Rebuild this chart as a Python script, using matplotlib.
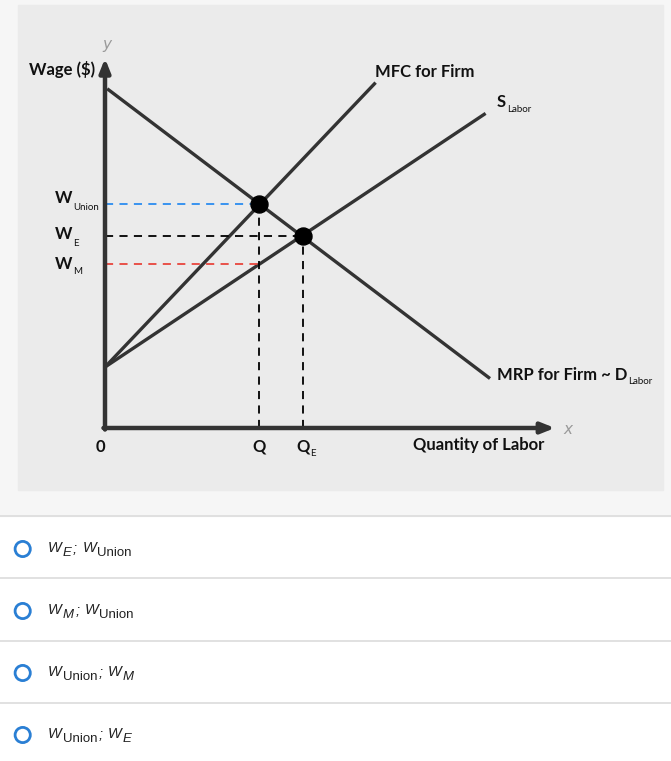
import matplotlib
matplotlib.use("Agg")
import matplotlib.pyplot as plt
from matplotlib.patches import Rectangle, Circle

# Economic diagram values (arbitrary units)
Q_UNION = 7.0
Q_E = 9.0
W_UNION = 10.2
W_E = 8.75
W_M = 7.45

mrp_x = [0.1, 17.5]
mrp_y = [15.42, 2.25]
supply_x = [0.0, 17.3]
supply_y = [2.77, 14.3]
mfc_x = [0.0, 12.3]
mfc_y = [2.77, 15.7]

x_axis_end = 20.45
y_axis_end = 16.8

# Answer choices: (main, subscript) pieces
options = [
    [("W", "E"), ("W", "Union")],
    [("W", "M"), ("W", "Union")],
    [("W", "Union"), ("W", "M")],
    [("W", "Union"), ("W", "E")],
]

W, H = 671, 761
fig = plt.figure(figsize=(W / 100, H / 100), dpi=100)
fig.patch.set_facecolor("white")
renderer = fig.canvas.get_renderer()

# pixel-space background axes
bg = fig.add_axes([0, 0, 1, 1])
bg.set_xlim(0, W)
bg.set_ylim(H, 0)
bg.axis("off")
bg.add_patch(Rectangle((0, 0), W, 516, color="#f6f6f6", zorder=0))
bg.add_patch(Rectangle((18, 5), 645, 485, color="#ebebeb", zorder=1))
for yy in [516, 578, 641, 703]:
    bg.plot([0, W], [yy, yy], color="#dcdcdc", lw=1.2, zorder=2)

# economic axes, 22 px per unit, origin at pixel (105, 428)
k = 22.0
ax = fig.add_axes([0, 0, 1, 1])
ax.set_xlim(-105 / k, (W - 105) / k)
ax.set_ylim((428 - H) / k, 428 / k)
ax.axis("off")
ax.patch.set_alpha(0)

dark = "#333333"
ax.annotate("", xy=(0, y_axis_end), xytext=(0, -0.07),
            arrowprops=dict(arrowstyle="-|>,head_length=0.8,head_width=0.32",
                            lw=3.2, color=dark, shrinkA=0, shrinkB=0))
ax.annotate("", xy=(x_axis_end, 0), xytext=(-0.07, 0),
            arrowprops=dict(arrowstyle="-|>,head_length=0.8,head_width=0.32",
                            lw=3.2, color=dark, shrinkA=0, shrinkB=0))

ax.plot(mrp_x, mrp_y, color=dark, lw=2.4, solid_capstyle="butt")
ax.plot(supply_x, supply_y, color=dark, lw=2.4, solid_capstyle="butt")
ax.plot(mfc_x, mfc_y, color=dark, lw=2.4, solid_capstyle="butt")

dash = (0, (4.5, 3.5))
ax.plot([0, Q_UNION], [W_UNION, W_UNION], color="#2b8cf0", lw=1.3, linestyle=dash)
ax.plot([0, Q_E], [W_E, W_E], color="black", lw=1.3, linestyle=dash)
ax.plot([0, Q_UNION], [W_M, W_M], color="#e8453c", lw=1.3, linestyle=dash)
ax.plot([Q_UNION, Q_UNION], [0, W_UNION], color="black", lw=1.3, linestyle=dash)
ax.plot([Q_E, Q_E], [0, W_E], color="black", lw=1.3, linestyle=dash)

ax.scatter([Q_UNION, Q_E], [W_UNION, W_E], s=150, color="black", zorder=5)


def seq_text(x, y, pieces):
    # draw text pieces one after another on the pixel axes
    for s, dy, gap, props in pieces:
        t = bg.text(x, y + dy, s, ha="left", va="center", **props)
        x += t.get_window_extent(renderer).width + gap
    return x


# chart labels (pixel coords)
cf = "Lato"
main = dict(fontsize=12, fontweight="bold", color="#111111", family=cf)
sub = dict(fontsize=7, color="#111111", family=cf)

bg.text(95, 70, "Wage ($)", ha="right", va="center", **main)
bg.text(107, 44, "y", ha="center", va="center", fontsize=11, style="italic",
        color="#9a9a9a", family="DejaVu Sans")
bg.text(568, 429, "x", ha="center", va="center", fontsize=11, style="italic",
        color="#9a9a9a", family="DejaVu Sans")
bg.text(375, 72, "MFC for Firm", ha="left", va="center", **main)
seq_text(497, 102, [("S", 0, 1, main), ("Labor", 7, 0, sub)])
seq_text(497, 375, [("MRP for Firm ~ D", 0, 1, main), ("Labor", 7, 0, sub)])

seq_text(55, 198, [("W", 0, 1, main), ("Union", 9, 0, sub)])
seq_text(55, 234, [("W", 0, 1, main), ("E", 9, 0, sub)])
seq_text(55, 264, [("W", 0, 1, main), ("M", 8, 0, sub)])

bg.text(100, 447, "0", ha="center", va="center", **main)
bg.text(259, 446, "Q", ha="center", va="center", **main)
seq_text(296, 446, [("Q", 0, 1, main), ("E", 7, 0, sub)])
bg.text(413, 445, "Quantity of Labor", ha="left", va="center", **main)

# answer choices
of = "Liberation Sans"
big = dict(fontsize=10.5, style="italic", color="#222222", family=of)
rows_y = [548, 610, 672, 734]
for opt, yy in zip(options, rows_y):
    bg.add_patch(Circle((22.7, yy + 1), 7.6, fill=False, edgecolor="#2a7fd4", lw=2.0, zorder=3))
    pieces = []
    for i, (m, s) in enumerate(opt):
        sp = dict(fontsize=9.5, color="#222222", family=of,
                  style="normal" if s == "Union" else "italic")
        pieces.append((m, 0, 1, big))
        pieces.append((s, 5, 1.5, sp))
        if i == 0:
            pieces.append((";", 1, 5, big))
    seq_text(48, yy, pieces)

fig.savefig("out.png", dpi=100)
